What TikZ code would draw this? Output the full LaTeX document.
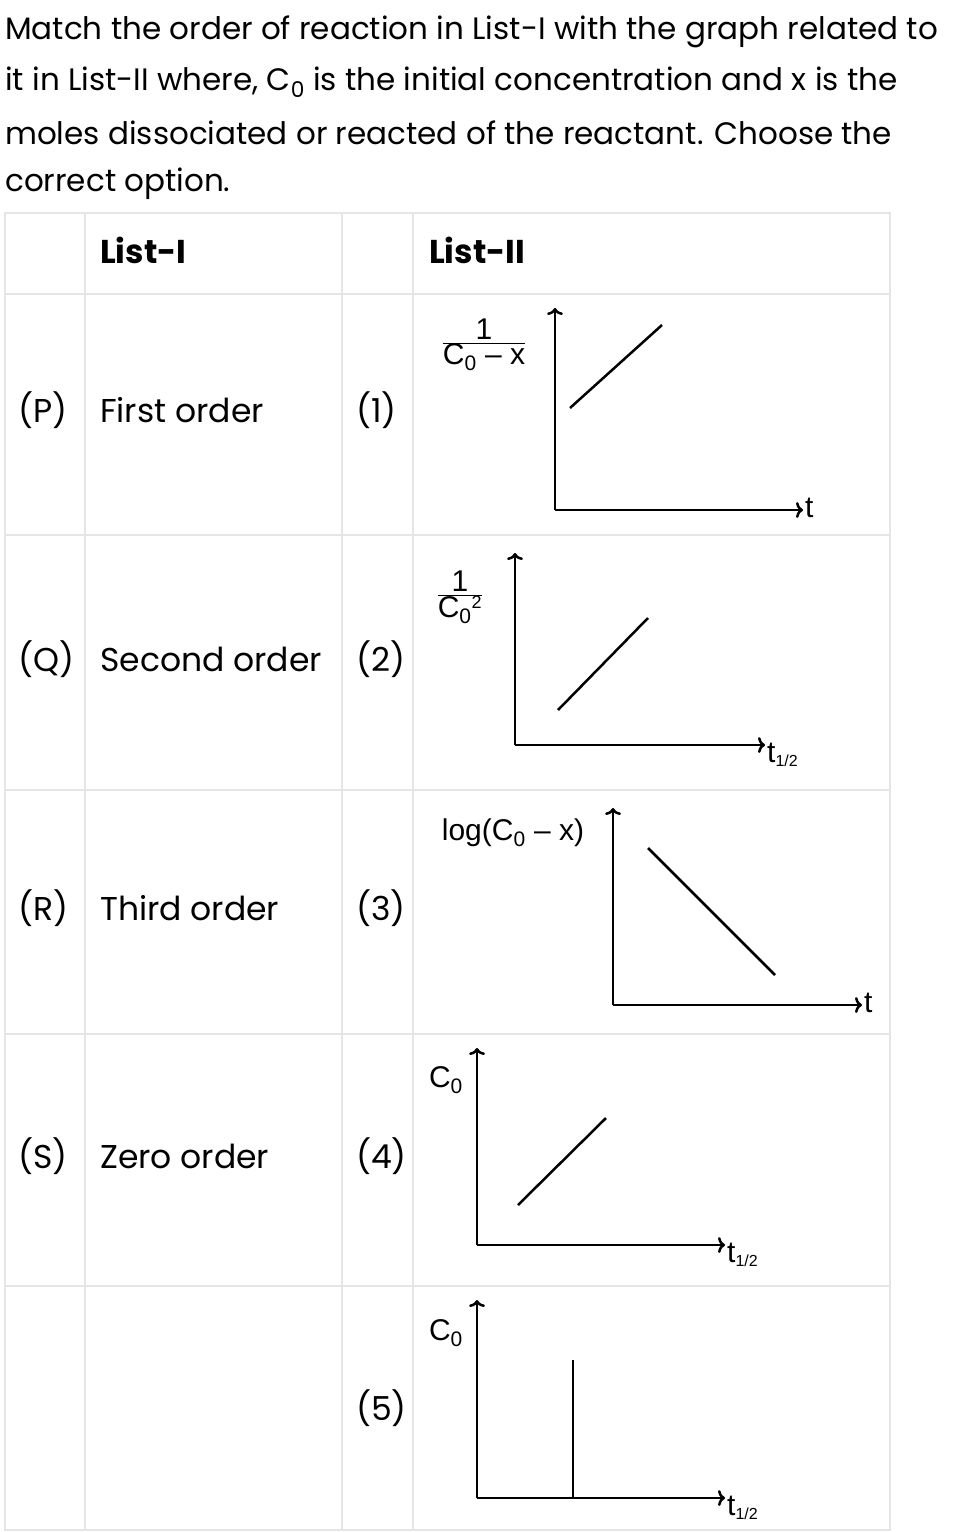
\documentclass[tikz,border=0pt]{standalone}
\usepackage{fontspec}
\setmainfont{Poppins}
\newfontfamily\graphfont{Liberation Sans}
\usetikzlibrary{arrows.meta}
\tikzstyle{cell} = [anchor=west, inner sep=0pt, font=\fontsize{33}{38}\selectfont]
\tikzstyle{head} = [anchor=west, inner sep=0pt, font=\fontsize{33}{38}\selectfont\bfseries]
\tikzstyle{para} = [anchor=west, inner sep=0pt, font=\fontsize{31}{36}\selectfont]
\tikzstyle{glabel} = [inner sep=0pt, font=\graphfont\fontsize{30}{34}\selectfont]
\tikzstyle{axis} = [line width=2.5pt,-{To[length=7pt,width=16pt,line width=2.5pt]}]
\tikzstyle{plot} = [line width=2.5pt]
\tikzstyle{grid} = [draw=black!10, line width=1.5pt]

\begin{document}
\begin{tikzpicture}[x=1pt,y=-1pt]
\useasboundingbox (0,0) rectangle (975,1532);

% question text
\node [para] (l1) at (5,32) {Match the order of reaction in List-I with the graph related to};
\node [para] (l2) at (5,82) {it in List-II where, C\textsubscript{0} is the initial concentration and x is the};
\node [para] (l3) at (5,133) {moles dissociated or reacted of the reactant. Choose the};
\node [para] (l4) at (5,184) {correct option.};

% table
\draw [grid] (5,213) rectangle (890,1530);
\foreach \y in {294,535,790,1034,1286} \draw [grid] (5,\y) -- (890,\y);
\foreach \x in {85,342,413} \draw [grid] (\x,213) -- (\x,1530);

\node [head] (h1) at (100,250) {List-I};
\node [head] (h2) at (429,250) {List-II};

\node [cell] (p) at (18,410) {(P)};
\node [cell] (pt) at (100,410) {First order};
\node [cell] (n1) at (356,410) {(1)};
\node [cell] (q) at (18,659) {(Q)};
\node [cell] (qt) at (100,659) {Second order};
\node [cell] (n2) at (356,659) {(2)};
\node [cell] (r) at (18,908) {(R)};
\node [cell] (rt) at (100,908) {Third order};
\node [cell] (n3) at (356,908) {(3)};
\node [cell] (s) at (18,1156) {(S)};
\node [cell] (st) at (100,1156) {Zero order};
\node [cell] (n4) at (356,1156) {(4)};
\node [cell] (n5) at (356,1408) {(5)};

% graph 1
\coordinate (o1) at (555,510);
\draw [axis] (o1) -- (555,308);
\draw [axis] (o1) -- (803,510);
\draw [plot] (570,408) -- (662,325);
\node [glabel, anchor=west] (t1) at (805,508) {t};
\node [glabel] (y1) at (484,345) {$\frac{\mbox{1}}{\mbox{C\textsubscript{0} \textendash{} x}}$};

% graph 2
\coordinate (o2) at (515,745);
\draw [axis] (o2) -- (515,553);
\draw [axis] (o2) -- (765,745);
\node [glabel, anchor=west] (t2) at (767,755) {t\textsubscript{\fontsize{16}{16}\selectfont 1/2}};
\draw [plot] (558,710) -- (648,618);
\node [glabel] (y2) at (460,597) {$\frac{\mbox{1}}{\mbox{C\textsubscript{0}\textsuperscript{\fontsize{18}{18}\selectfont 2}}}$};

% graph 3
\coordinate (o3) at (613,1005);
\draw [axis] (o3) -- (613,808);
\draw [axis] (o3) -- (862,1005);
\node [glabel, anchor=west] (t3) at (864,1003) {t};
\draw [plot] (648,848) -- (775,975);
\node [glabel] (y3) at (513,833) {log(C\textsubscript{0} \textendash{} x)};

% graph 4
\coordinate (o4) at (477,1245);
\draw [axis] (o4) -- (477,1048);
\draw [axis] (o4) -- (725,1245);
\node [glabel, anchor=west] (t4) at (727,1255) {t\textsubscript{\fontsize{16}{16}\selectfont 1/2}};
\draw [plot] (518,1205) -- (606,1118);
\node [glabel] (y4) at (446,1080) {C\textsubscript{0}};

% graph 5
\coordinate (o5) at (477,1498);
\draw [axis] (o5) -- (477,1300);
\draw [axis] (o5) -- (725,1498);
\node [glabel, anchor=west] (t5) at (727,1508) {t\textsubscript{\fontsize{16}{16}\selectfont 1/2}};
\draw [plot] (573,1360) -- (573,1498);
\node [glabel] (y5) at (446,1333) {C\textsubscript{0}};

\end{tikzpicture}
\end{document}
